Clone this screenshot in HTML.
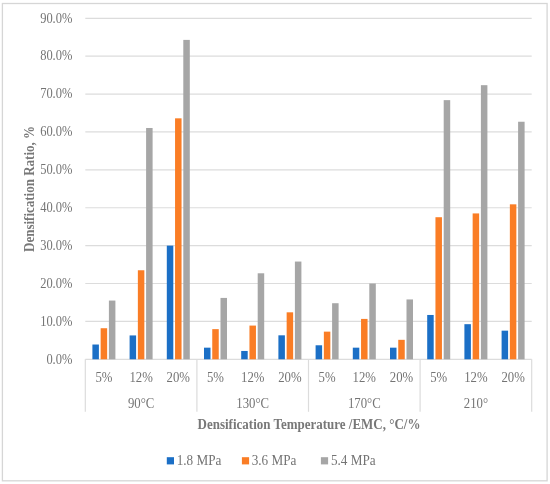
<!DOCTYPE html>
<html><head><meta charset="utf-8"><title>Densification Ratio chart</title>
<style>
html,body{margin:0;padding:0;background:#fff;}
body{width:550px;height:484px;overflow:hidden;}
svg{display:block;}
text{font-family:"Liberation Serif",serif;fill:#747474;}
.t{font-size:12.8px;}
.b{font-size:13.0px;font-weight:bold;fill:#787878;}
</style></head><body>
<svg width="550" height="484" viewBox="0 0 550 484">
<rect x="0" y="0" width="550" height="484" fill="#ffffff"/>
<rect x="2.4" y="3.5" width="544.7" height="477.3" fill="none" stroke="#d6d6d6" stroke-width="1.3"/>
<line x1="85.30" y1="18.30" x2="531.70" y2="18.30" stroke="#dcdcdc" stroke-width="1.2"/>
<line x1="85.30" y1="56.19" x2="531.70" y2="56.19" stroke="#dcdcdc" stroke-width="1.2"/>
<line x1="85.30" y1="94.08" x2="531.70" y2="94.08" stroke="#dcdcdc" stroke-width="1.2"/>
<line x1="85.30" y1="131.97" x2="531.70" y2="131.97" stroke="#dcdcdc" stroke-width="1.2"/>
<line x1="85.30" y1="169.86" x2="531.70" y2="169.86" stroke="#dcdcdc" stroke-width="1.2"/>
<line x1="85.30" y1="207.74" x2="531.70" y2="207.74" stroke="#dcdcdc" stroke-width="1.2"/>
<line x1="85.30" y1="245.63" x2="531.70" y2="245.63" stroke="#dcdcdc" stroke-width="1.2"/>
<line x1="85.30" y1="283.52" x2="531.70" y2="283.52" stroke="#dcdcdc" stroke-width="1.2"/>
<line x1="85.30" y1="321.41" x2="531.70" y2="321.41" stroke="#dcdcdc" stroke-width="1.2"/>
<line x1="85.30" y1="359.30" x2="531.70" y2="359.30" stroke="#dcdcdc" stroke-width="1.2"/>
<line x1="85.30" y1="359.30" x2="85.30" y2="411.80" stroke="#dcdcdc" stroke-width="1.2"/>
<line x1="196.90" y1="359.30" x2="196.90" y2="411.80" stroke="#dcdcdc" stroke-width="1.2"/>
<line x1="308.50" y1="359.30" x2="308.50" y2="411.80" stroke="#dcdcdc" stroke-width="1.2"/>
<line x1="420.10" y1="359.30" x2="420.10" y2="411.80" stroke="#dcdcdc" stroke-width="1.2"/>
<line x1="531.70" y1="359.30" x2="531.70" y2="411.80" stroke="#dcdcdc" stroke-width="1.2"/>
<rect x="92.40" y="344.52" width="6.50" height="14.78" fill="#1b6fc6"/>
<rect x="100.65" y="328.23" width="6.50" height="31.07" fill="#fa7d25"/>
<rect x="108.90" y="300.57" width="6.50" height="58.73" fill="#a6a6a6"/>
<rect x="129.60" y="335.43" width="6.50" height="23.87" fill="#1b6fc6"/>
<rect x="137.85" y="270.26" width="6.50" height="89.04" fill="#fa7d25"/>
<rect x="146.10" y="127.99" width="6.50" height="231.31" fill="#a6a6a6"/>
<rect x="166.80" y="245.63" width="6.50" height="113.67" fill="#1b6fc6"/>
<rect x="175.05" y="118.33" width="6.50" height="240.97" fill="#fa7d25"/>
<rect x="183.30" y="39.90" width="6.50" height="319.40" fill="#a6a6a6"/>
<rect x="204.00" y="347.67" width="6.50" height="11.63" fill="#1b6fc6"/>
<rect x="212.25" y="329.14" width="6.50" height="30.16" fill="#fa7d25"/>
<rect x="220.50" y="297.92" width="6.50" height="61.38" fill="#a6a6a6"/>
<rect x="241.20" y="350.96" width="6.50" height="8.34" fill="#1b6fc6"/>
<rect x="249.45" y="325.58" width="6.50" height="33.72" fill="#fa7d25"/>
<rect x="257.70" y="273.29" width="6.50" height="86.01" fill="#a6a6a6"/>
<rect x="278.40" y="335.32" width="6.50" height="23.98" fill="#1b6fc6"/>
<rect x="286.65" y="312.32" width="6.50" height="46.98" fill="#fa7d25"/>
<rect x="294.90" y="261.55" width="6.50" height="97.75" fill="#a6a6a6"/>
<rect x="315.60" y="345.28" width="6.50" height="14.02" fill="#1b6fc6"/>
<rect x="323.85" y="331.64" width="6.50" height="27.66" fill="#fa7d25"/>
<rect x="332.10" y="303.22" width="6.50" height="56.08" fill="#a6a6a6"/>
<rect x="352.80" y="347.67" width="6.50" height="11.63" fill="#1b6fc6"/>
<rect x="361.05" y="318.91" width="6.50" height="40.39" fill="#fa7d25"/>
<rect x="369.30" y="283.52" width="6.50" height="75.78" fill="#a6a6a6"/>
<rect x="390.00" y="347.67" width="6.50" height="11.63" fill="#1b6fc6"/>
<rect x="398.25" y="339.83" width="6.50" height="19.47" fill="#fa7d25"/>
<rect x="406.50" y="299.44" width="6.50" height="59.86" fill="#a6a6a6"/>
<rect x="427.20" y="314.97" width="6.50" height="44.33" fill="#1b6fc6"/>
<rect x="435.45" y="217.22" width="6.50" height="142.08" fill="#fa7d25"/>
<rect x="443.70" y="100.14" width="6.50" height="259.16" fill="#a6a6a6"/>
<rect x="464.40" y="324.18" width="6.50" height="35.12" fill="#1b6fc6"/>
<rect x="472.65" y="213.43" width="6.50" height="145.87" fill="#fa7d25"/>
<rect x="480.90" y="85.17" width="6.50" height="274.13" fill="#a6a6a6"/>
<rect x="501.60" y="330.66" width="6.50" height="28.64" fill="#1b6fc6"/>
<rect x="509.85" y="204.33" width="6.50" height="154.97" fill="#fa7d25"/>
<rect x="518.10" y="121.74" width="6.50" height="237.56" fill="#a6a6a6"/>
<text class="t" style="font-size:12.5px" transform="translate(72.4,22.60) scale(1,1.090)" text-anchor="end">90.0%</text>
<text class="t" style="font-size:12.5px" transform="translate(72.4,60.49) scale(1,1.090)" text-anchor="end">80.0%</text>
<text class="t" style="font-size:12.5px" transform="translate(72.4,98.38) scale(1,1.090)" text-anchor="end">70.0%</text>
<text class="t" style="font-size:12.5px" transform="translate(72.4,136.27) scale(1,1.090)" text-anchor="end">60.0%</text>
<text class="t" style="font-size:12.5px" transform="translate(72.4,174.16) scale(1,1.090)" text-anchor="end">50.0%</text>
<text class="t" style="font-size:12.5px" transform="translate(72.4,212.04) scale(1,1.090)" text-anchor="end">40.0%</text>
<text class="t" style="font-size:12.5px" transform="translate(72.4,249.93) scale(1,1.090)" text-anchor="end">30.0%</text>
<text class="t" style="font-size:12.5px" transform="translate(72.4,287.82) scale(1,1.090)" text-anchor="end">20.0%</text>
<text class="t" style="font-size:12.5px" transform="translate(72.4,325.71) scale(1,1.090)" text-anchor="end">10.0%</text>
<text class="t" style="font-size:12.5px" transform="translate(72.4,363.60) scale(1,1.090)" text-anchor="end">0.0%</text>
<text class="t" transform="translate(103.90,381.8) scale(1,1.120)" text-anchor="middle">5%</text>
<text class="t" transform="translate(141.10,381.8) scale(1,1.120)" text-anchor="middle">12%</text>
<text class="t" transform="translate(178.30,381.8) scale(1,1.120)" text-anchor="middle">20%</text>
<text class="t" transform="translate(215.50,381.8) scale(1,1.120)" text-anchor="middle">5%</text>
<text class="t" transform="translate(252.70,381.8) scale(1,1.120)" text-anchor="middle">12%</text>
<text class="t" transform="translate(289.90,381.8) scale(1,1.120)" text-anchor="middle">20%</text>
<text class="t" transform="translate(327.10,381.8) scale(1,1.120)" text-anchor="middle">5%</text>
<text class="t" transform="translate(364.30,381.8) scale(1,1.120)" text-anchor="middle">12%</text>
<text class="t" transform="translate(401.50,381.8) scale(1,1.120)" text-anchor="middle">20%</text>
<text class="t" transform="translate(438.70,381.8) scale(1,1.120)" text-anchor="middle">5%</text>
<text class="t" transform="translate(475.90,381.8) scale(1,1.120)" text-anchor="middle">12%</text>
<text class="t" transform="translate(513.10,381.8) scale(1,1.120)" text-anchor="middle">20%</text>
<text class="t" transform="translate(141.10,408.2) scale(1,1.120)" text-anchor="middle">90°C</text>
<text class="t" transform="translate(252.70,408.2) scale(1,1.120)" text-anchor="middle">130°C</text>
<text class="t" transform="translate(364.30,408.2) scale(1,1.120)" text-anchor="middle">170°C</text>
<text class="t" transform="translate(475.90,408.2) scale(1,1.120)" text-anchor="middle">210°</text>
<text class="b" transform="translate(309,428.9) scale(1,1.08)" text-anchor="middle">Densification Temperature /EMC, °C/%</text>
<text class="b" transform="translate(33.8,189) rotate(-90) scale(1,1.1)" text-anchor="middle">Densification Ratio, %</text>
<rect x="166.80" y="457.2" width="7.2" height="7.2" fill="#1b6fc6"/>
<text class="t" style="font-size:13.2px" transform="translate(176.70,464.9) scale(1,1.1)">1.8 MPa</text>
<rect x="241.90" y="457.2" width="7.2" height="7.2" fill="#fa7d25"/>
<text class="t" style="font-size:13.2px" transform="translate(251.70,464.9) scale(1,1.1)">3.6 MPa</text>
<rect x="320.90" y="457.2" width="7.2" height="7.2" fill="#a6a6a6"/>
<text class="t" style="font-size:13.2px" transform="translate(330.90,464.9) scale(1,1.1)">5.4 MPa</text>
</svg>
</body></html>
